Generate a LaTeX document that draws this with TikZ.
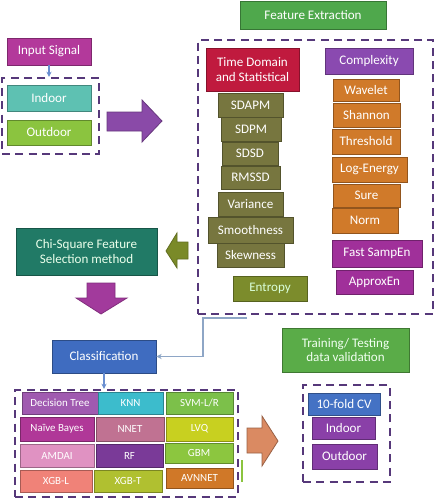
\documentclass[tikz,border=0pt]{standalone}
\usepackage{fontspec}
\setmainfont{Carlito}
\usetikzlibrary{arrows.meta}
\definecolor{cInput}{HTML}{B3399B}
\definecolor{cIndoor}{HTML}{5EC1B2}
\definecolor{cOutdoor}{HTML}{8BC43F}
\definecolor{cBigArrow}{HTML}{8A4AA8}
\definecolor{cFeat}{HTML}{4FA84C}
\definecolor{cTime}{HTML}{C01A3E}
\definecolor{cComplex}{HTML}{8A4AB0}
\definecolor{cOlive}{HTML}{77763F}
\definecolor{cOrange}{HTML}{D07A2A}
\definecolor{cMag}{HTML}{A0309A}
\definecolor{cEntropy}{HTML}{7C8C2C}
\definecolor{cChi}{HTML}{217A66}
\definecolor{cOliveArrow}{HTML}{7A8A28}
\definecolor{cDownArrow}{HTML}{A23A9C}
\definecolor{cClass}{HTML}{3F6CC0}
\definecolor{cTrain}{HTML}{5AAC48}
\definecolor{cCV}{HTML}{4472C4}
\definecolor{cPurp}{HTML}{8A40A8}
\definecolor{cDT}{HTML}{A05AB0}
\definecolor{cKNN}{HTML}{3CBCCC}
\definecolor{cSVM}{HTML}{7CC04A}
\definecolor{cNB}{HTML}{B03898}
\definecolor{cNNET}{HTML}{C07292}
\definecolor{cLVQ}{HTML}{C8D020}
\definecolor{cAMDAI}{HTML}{E092C2}
\definecolor{cRF}{HTML}{7A3A98}
\definecolor{cGBM}{HTML}{8CC63F}
\definecolor{cXGBL}{HTML}{F08278}
\definecolor{cXGBT}{HTML}{B0C030}
\definecolor{cAVN}{HTML}{D07828}
\definecolor{cDash}{HTML}{56387A}
\definecolor{cConn}{HTML}{8EA6C6}
\definecolor{cOrArrow}{HTML}{DA8A62}
% \mkbox{style}{name}{x1}{y1}{x2}{y2}{text}
\newcommand\mkbox[7]{%
  \node[#1, minimum width={(#5-#3)*0.75pt}, minimum height={(#6-#4)*0.75pt}]
    (#2) at ({(#3+#5)/2},{(#4+#6)/2}) {#7};}
\begin{document}
\begin{tikzpicture}[x=0.75pt,y=-0.75pt,
  bx/.style={inner sep=0pt, fill=#1, draw=#1!70!black, line width=0.6pt,
     text=white, font=\fontsize{9.8}{10.6}\selectfont, align=center},
  sbx/.style={bx=#1, font=\fontsize{8.2}{9}\selectfont},
  dbox/.style={inner sep=0pt, draw=cDash, line width=1.6pt, dash pattern=on 6pt off 4pt},
  conn/.style={draw=cConn, line width=0.8pt, -{Stealth[length=4pt,width=4pt]}},
  blockarrow/.style={line width=0.6pt}
]
\fill[white] (0,0) rectangle (435,500);
\useasboundingbox (0,0) rectangle (435,500);

% input part
\mkbox{bx=cInput}{input}{7}{38}{91}{65}{Input Signal}
\mkbox{dbox}{ingrp}{2}{78}{99}{154}{}
\mkbox{bx=cIndoor}{indoor}{7}{85}{91}{111}{Indoor}
\mkbox{bx=cOutdoor}{outdoor}{7}{120}{91}{145}{Outdoor}
\draw[conn, draw=cCV!80!white] (input.south) -- (input.south |- ingrp.north);
\draw[blockarrow, fill=cBigArrow, draw=cBigArrow!75!black]
  (107,112)--(142,112)--(142,100)--(162,121)--(142,142)--(142,131)--(107,131)--cycle;

% feature extraction
\mkbox{bx=cFeat}{feat}{240}{1}{386}{29}{Feature Extraction}
\mkbox{dbox}{featgrp}{198}{40}{433}{314}{}
\mkbox{bx=cTime}{time}{206}{48}{299}{91}{Time Domain\\and Statistical}
\mkbox{bx=cComplex}{complex}{325}{48}{413}{74}{Complexity}
\mkbox{bx=cOlive}{sdapm}{218}{93}{283}{117}{SDAPM}
\mkbox{bx=cOlive}{sdpm}{221}{117}{281}{141}{SDPM}
\mkbox{bx=cOlive}{sdsd}{222}{142}{278}{165}{SDSD}
\mkbox{bx=cOlive}{rmssd}{221}{166}{280}{189}{RMSSD}
\mkbox{bx=cOlive}{variance}{218}{192}{283}{216}{Variance}
\mkbox{bx=cOlive}{smooth}{208}{217}{293}{243}{Smoothness}
\mkbox{bx=cOlive}{skew}{217}{243}{284}{267}{Skewness}
\mkbox{bx=cEntropy, text=green!15!white}{entropy}{233}{276}{307}{301}{Entropy}
\mkbox{bx=cOrange}{wavelet}{333}{79}{399}{101}{Wavelet}
\mkbox{bx=cOrange}{shannon}{333}{103}{400}{127}{Shannon}
\mkbox{bx=cOrange}{threshold}{332}{129}{400}{154}{Threshold}
\mkbox{bx=cOrange}{logen}{332}{157}{407}{182}{Log-Energy}
\mkbox{bx=cOrange}{sure}{333}{184}{400}{207}{Sure}
\mkbox{bx=cOrange}{norm}{332}{208}{398}{233}{Norm}
\mkbox{bx=cMag}{fastsamp}{332}{240}{422}{267}{Fast SampEn}
\mkbox{bx=cMag}{approx}{336}{270}{413}{294}{ApproxEn}

% chi-square
\mkbox{bx=cChi, text=green!8!white}{chi}{16}{228}{157}{275}{Chi-Square Feature\\Selection method}
\draw[blockarrow, fill=cOliveArrow, draw=cOliveArrow!80!black]
  (188,242)--(177,242)--(177,233)--(166,251)--(177,268)--(177,259)--(188,259)--cycle;
\draw[blockarrow, fill=cDownArrow, draw=cDownArrow!80!black]
  (87,283)--(115,283)--(115,298)--(127,298)--(101,314)--(76,298)--(87,298)--cycle;

% classification
\mkbox{bx=cClass}{class}{52}{340}{156}{373}{Classification}
\coordinate (c1) at (247,318);
\coordinate (c2) at (203,318);
\draw[conn] (c1) -- (c2) |- (class.east);
\mkbox{dbox}{grid}{15}{390}{238}{497}{}
\draw[conn, draw=cCV!80!white] (class.south) -- (class.south |- grid.north);
\mkbox{sbx=cDT}{dt}{22}{392}{98}{414}{Decision Tree}
\mkbox{sbx=cKNN}{knn}{98}{392}{163}{414}{KNN}
\mkbox{sbx=cSVM}{svm}{166}{392}{233}{414}{SVM-L/R}
\mkbox{sbx=cNB}{nb}{20}{417}{94}{441}{Naïve Bayes}
\mkbox{sbx=cNNET}{nnet}{96}{417}{164}{441}{NNET}
\mkbox{sbx=cLVQ}{lvq}{166}{417}{233}{441}{LVQ}
\mkbox{sbx=cAMDAI}{amdai}{20}{444}{94}{467}{AMDAI}
\mkbox{sbx=cRF}{rf}{96}{444}{163}{467}{RF}
\mkbox{sbx=cGBM}{gbm}{165}{443}{233}{463}{GBM}
\mkbox{sbx=cXGBL}{xgbl}{20}{470}{92}{492}{XGB-L}
\mkbox{sbx=cXGBT}{xgbt}{94}{470}{162}{492}{XGB-T}
\mkbox{sbx=cAVN}{avn}{166}{468}{233}{488}{AVNNET}
\draw[cOutdoor, line width=0.8pt] (242,460) -- (242,482);

% validation
\draw[blockarrow, fill=cOrArrow, draw=cOrArrow!70!black]
  (247,428)--(262,428)--(262,416)--(278,441)--(262,466)--(262,453)--(247,453)--cycle;
\mkbox{bx=cTrain, text=green!6!white}{train}{282}{328}{409}{372}{Training/ Testing\\data validation}
\mkbox{dbox}{valgrp}{303}{385}{390}{482}{}
\mkbox{bx=cCV}{cv}{308}{393}{380}{415}{10-fold CV}
\mkbox{bx=cPurp}{vin}{312}{417}{375}{439}{Indoor}
\mkbox{bx=cPurp}{vout}{312}{444}{377}{469}{Outdoor}
\end{tikzpicture}
\end{document}
